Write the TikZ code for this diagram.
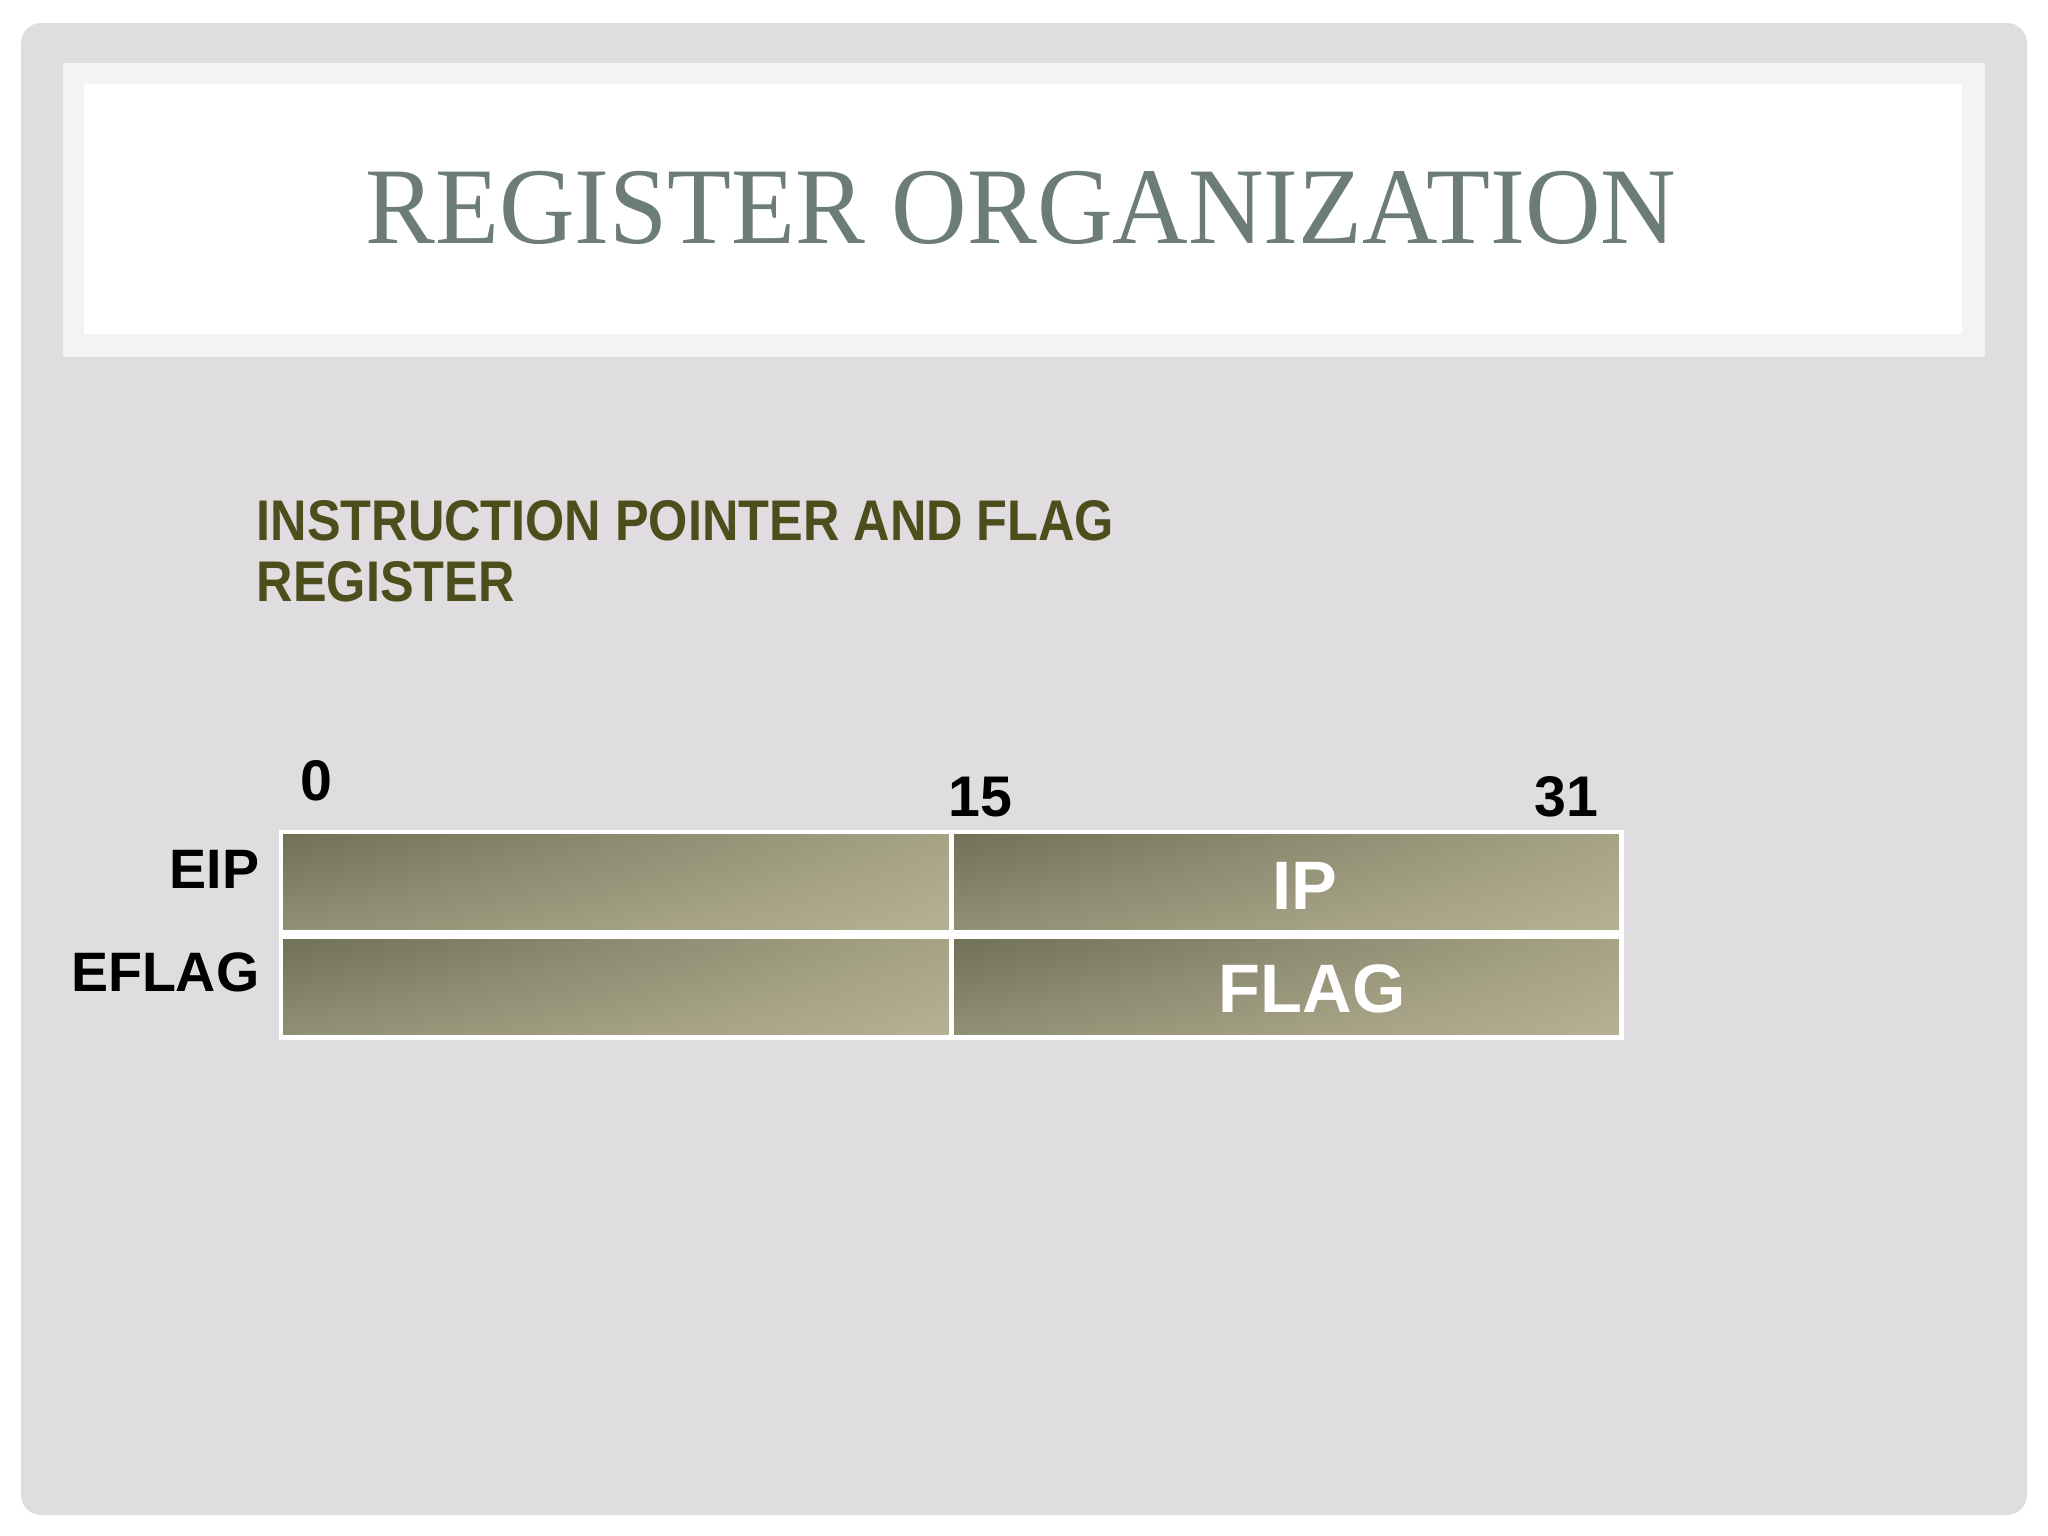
\documentclass[tikz,border=0pt]{standalone}
\usepackage{fontspec}
\setmainfont{Liberation Serif}
\setsansfont{Liberation Sans}
\usepackage{tikz}
\usetikzlibrary{positioning, shadings}

\definecolor{slidegray}{RGB}{223,221,224}
\definecolor{bandgray}{RGB}{243,243,243}
\definecolor{titlegreen}{RGB}{108,124,118}
\definecolor{olivetext}{RGB}{78,78,28}
\definecolor{celldark}{RGB}{112,112,88}
\definecolor{cellmidA}{RGB}{166,163,133}
\definecolor{cellmidB}{RGB}{146,144,116}
\definecolor{celllight}{RGB}{182,178,148}

\begin{document}
\begin{tikzpicture}[x=0.01cm, y=-0.01cm,
    regcell/.style={draw=white, line width=1.4pt, inner sep=0pt, outer sep=0pt,
      minimum width=6.7cm, minimum height=1cm, anchor=north west,
      upper left=celldark, upper right=cellmidA, lower left=cellmidB, lower right=celllight},
    rowlbl/.style={font=\sffamily\bfseries\fontsize{15.8}{18}\selectfont, inner sep=0pt, anchor=base east},
    bitlbl/.style={font=\sffamily\bfseries\fontsize{16.3}{19}\selectfont, inner sep=0pt, anchor=base},
    celltext/.style={white, font=\sffamily\bfseries\fontsize{19.5}{23}\selectfont, inner sep=0pt, anchor=base}]
    \useasboundingbox (0,0) rectangle (2048,1536);
    \fill[white] (0,0) rectangle (2048,1536);
    \fill[slidegray, rounded corners=0.2cm] (21,23) rectangle (2027,1515);
    % title band
    \fill[bandgray] (63,63) rectangle (1985,357);
    \fill[white] (84,84) rectangle (1962,334);
    \node[titlegreen, font=\fontsize{31}{36}\selectfont, inner sep=0pt, anchor=base] (title) at (1021,243) {\scalebox{0.96}[1]{REGISTER ORGANIZATION}};
    \node[olivetext, font=\sffamily\bfseries\fontsize{16.3}{17.4}\selectfont, align=left, inner sep=0pt, anchor=north west] (subtitle) at (256,500)
      {\scalebox{0.88}[1]{INSTRUCTION POINTER AND FLAG}\\\scalebox{0.88}[1]{REGISTER}};
    % register rows
    \node[regcell] (eipupper) at (281,832) {};
    \node[regcell, right=0pt of eipupper] (ipcell) {};
    \node[regcell] (eflagupper) at (281,937) {};
    \node[regcell, right=0pt of eflagupper] (flagcell) {};
    \node[celltext] (iptext) at (1305,909) {IP};
    \node[celltext] (flagtext) at (1312,1012) {FLAG};
    % row names and bit numbers
    \node[rowlbl] (eiplbl) at (260,888) {EIP};
    \node[rowlbl] (eflaglbl) at (260,991) {EFLAG};
    \node[bitlbl] (bit0) at (316,800) {0};
    \node[bitlbl] (bit15) at (980,816) {15};
    \node[bitlbl] (bit31) at (1566,816) {31};
\end{tikzpicture}
\end{document}
